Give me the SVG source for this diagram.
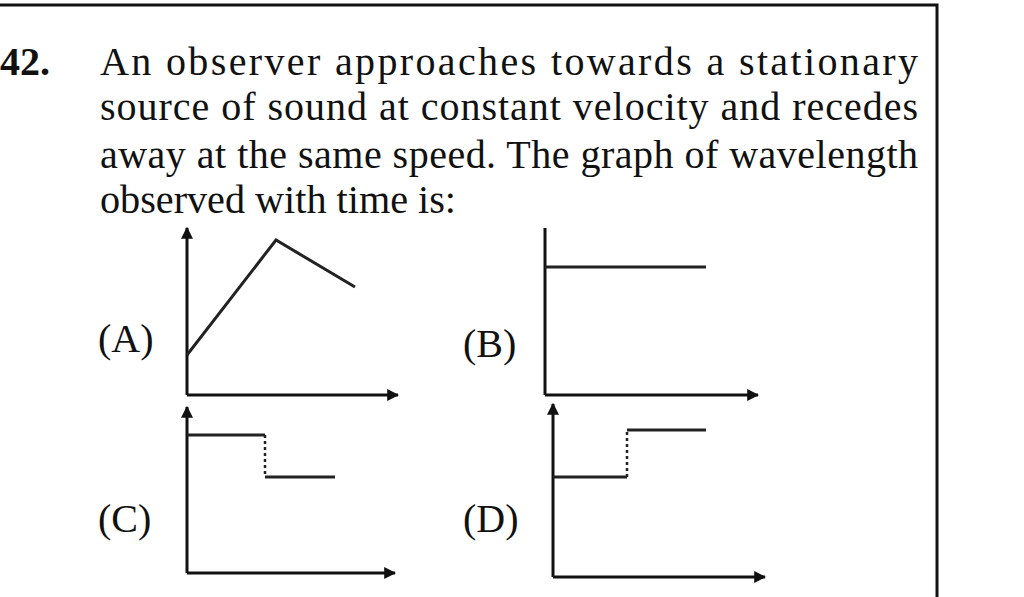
<svg xmlns="http://www.w3.org/2000/svg" width="1024" height="597" viewBox="0 0 1024 597">
<style>
text{font-family:"Liberation Serif",serif;font-size:40px;fill:#111}
.ax{stroke:#111;stroke-width:3;fill:none}
.ln{stroke:#222;stroke-width:3;fill:none}
.ds{stroke:#222;stroke-width:2.5;stroke-dasharray:3 3;fill:none}
</style>
<defs><marker id="ar" viewBox="0 0 10 10" refX="9" refY="5" markerWidth="4" markerHeight="4" orient="auto"><path d="M0,0L10,5L0,10z" fill="#111"/></marker></defs>
<rect width="1024" height="597" fill="#fff"/>
<path d="M0,5H937V597" stroke="#111" stroke-width="3" fill="none"/>
<text x="0" y="75" font-weight="bold">42.</text>
<text x="100" y="75" textLength="818" lengthAdjust="spacing">An observer approaches towards a stationary</text>
<text x="100" y="120" textLength="818" lengthAdjust="spacing">source of sound at constant velocity and recedes</text>
<text x="100" y="168" textLength="818" lengthAdjust="spacing">away at the same speed. The graph of wavelength</text>
<text x="100" y="213" textLength="356" lengthAdjust="spacingAndGlyphs">observed with time is:</text>
<g id="graphA">
<path class="ax" d="M187,395V228" marker-end="url(#ar)"/>
<path class="ax" d="M187,395H398" marker-end="url(#ar)"/>
<path class="ln" d="M187,355L276,240L355,287"/>
<text x="98" y="352">(A)</text>
</g>
<g id="graphB">
<path class="ax" d="M545,395V228"/>
<path class="ax" d="M545,395H758" marker-end="url(#ar)"/>
<path class="ln" d="M545,267H706"/>
<text x="463" y="357">(B)</text>
</g>
<g id="graphC">
<path class="ax" d="M187,573V407" marker-end="url(#ar)"/>
<path class="ax" d="M187,573H395" marker-end="url(#ar)"/>
<path class="ln" d="M187,435H265M265,477H335"/>
<path class="ds" d="M265,435V477"/>
<text x="98" y="532">(C)</text>
</g>
<g id="graphD">
<path class="ax" d="M553,577V404" marker-end="url(#ar)"/>
<path class="ax" d="M553,577H765" marker-end="url(#ar)"/>
<path class="ln" d="M553,477H627M627,430H706"/>
<path class="ds" d="M627,477V430"/>
<text x="463" y="532">(D)</text>
</g>
</svg>
